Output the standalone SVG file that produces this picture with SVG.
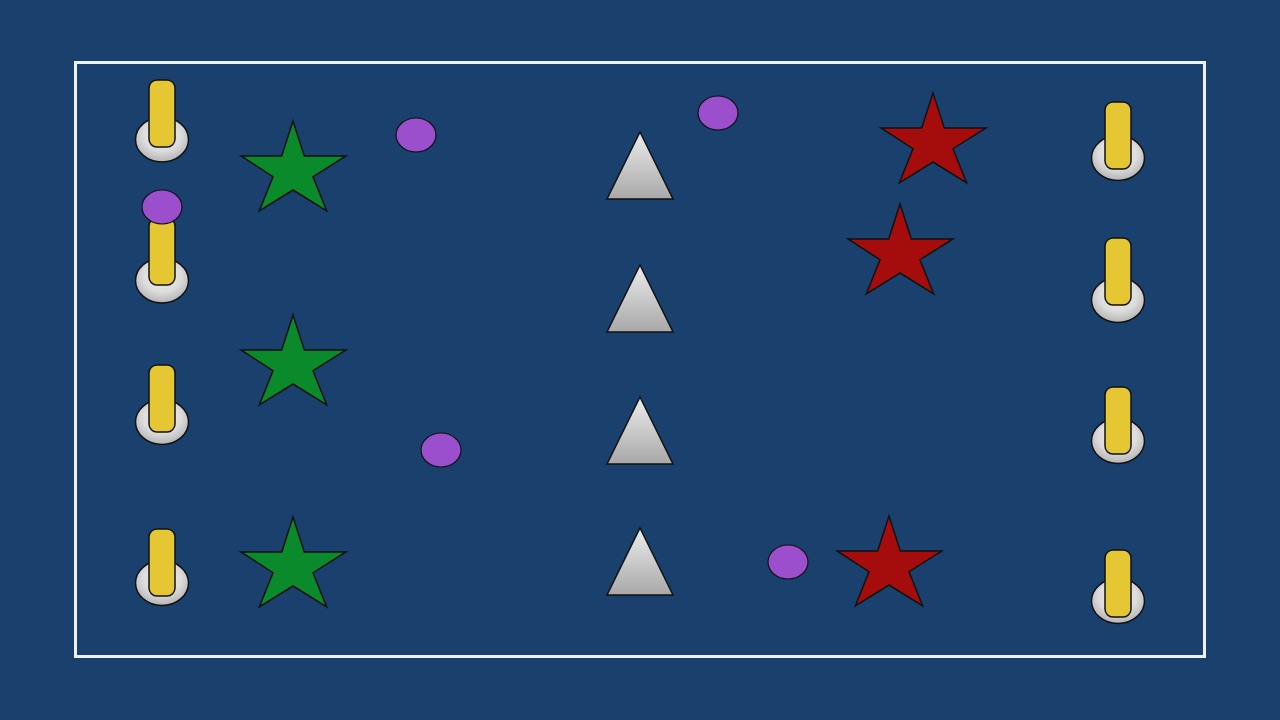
<svg xmlns="http://www.w3.org/2000/svg" width="1280" height="720" viewBox="0 0 1280 720">
<defs>
<radialGradient id="gbase" cx="0.5" cy="0.4" r="0.6">
<stop offset="0" stop-color="#f0f0f0"/>
<stop offset="0.6" stop-color="#dcdcdc"/>
<stop offset="1" stop-color="#b4b4b4"/>
</radialGradient>
<linearGradient id="gtri" x1="0" y1="0" x2="0" y2="1">
<stop offset="0" stop-color="#ececec"/>
<stop offset="1" stop-color="#a8a8a8"/>
</linearGradient>
<ellipse id="base" cx="0" cy="0" rx="26.5" ry="22.5" fill="url(#gbase)" stroke="#111" stroke-width="1.5"/>
<rect id="peg" x="-13" y="0" width="26" height="67" rx="8" fill="#e5c733" stroke="#111" stroke-width="1.5"/>
<polygon id="star" points="0,0 11.3,35 53,35 20,55.7 33.7,90 0,69 -33.7,90 -20,55.7 -52,35 -11.3,35" stroke="#111" stroke-width="1.5" stroke-linejoin="miter"/>
<polygon id="tri" points="0,0 33,67 -33,67" fill="url(#gtri)" stroke="#111" stroke-width="1.5"/>
</defs>
<style>
.dot{fill:#9b4fcc;stroke:#111;stroke-width:1.2}
.green{fill:#0a8a2a}
.red{fill:#a50d0d}
</style>
<rect width="1280" height="720" fill="#1a416e"/>
<rect x="75.5" y="62.5" width="1129" height="594" fill="none" stroke="#eef2f6" stroke-width="3"/>
<g id="pins-left">
<g id="pin-l1"><use href="#base" x="162" y="139.5"/><use href="#peg" x="162" y="80"/></g>
<g id="pin-l2"><use href="#base" x="162" y="280.5"/><use href="#peg" x="162" y="218"/></g>
<g id="pin-l3"><use href="#base" x="162" y="422"/><use href="#peg" x="162" y="365"/></g>
<g id="pin-l4"><use href="#base" x="162" y="583"/><use href="#peg" x="162" y="529"/></g>
</g>
<g id="pins-right">
<g id="pin-r1"><use href="#base" x="1118" y="158"/><use href="#peg" x="1118" y="102"/></g>
<g id="pin-r2"><use href="#base" x="1118" y="300"/><use href="#peg" x="1118" y="238"/></g>
<g id="pin-r3"><use href="#base" x="1118" y="441"/><use href="#peg" x="1118" y="387"/></g>
<g id="pin-r4"><use href="#base" x="1118" y="601"/><use href="#peg" x="1118" y="550"/></g>
</g>
<g id="green-stars">
<use href="#star" class="green" x="293" y="121"/>
<use href="#star" class="green" x="293" y="315"/>
<use href="#star" class="green" x="293" y="517"/>
</g>
<g id="red-stars">
<use href="#star" class="red" x="933" y="93"/>
<use href="#star" class="red" x="900" y="204"/>
<use href="#star" class="red" x="889" y="516"/>
</g>
<g id="triangles">
<use href="#tri" x="640" y="132"/>
<use href="#tri" x="640" y="265"/>
<use href="#tri" x="640" y="397"/>
<use href="#tri" x="640" y="528"/>
</g>
<g id="dots">
<ellipse class="dot" cx="416" cy="135" rx="20" ry="17"/>
<ellipse class="dot" cx="718" cy="113" rx="20" ry="17"/>
<ellipse class="dot" cx="162" cy="207" rx="20" ry="17"/>
<ellipse class="dot" cx="441" cy="450" rx="20" ry="17"/>
<ellipse class="dot" cx="788" cy="562" rx="20" ry="17"/>
</g>
</svg>
